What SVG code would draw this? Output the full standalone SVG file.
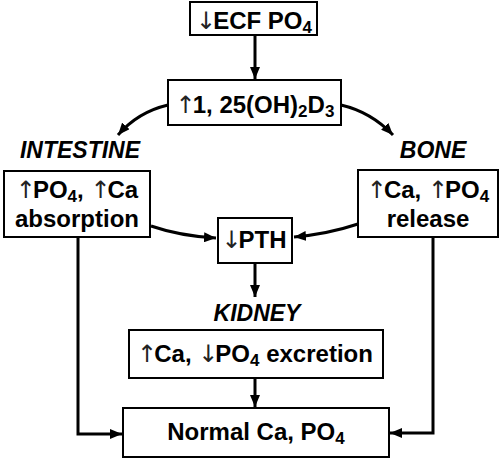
<svg xmlns="http://www.w3.org/2000/svg" width="500" height="459" viewBox="0 0 500 459">
<style>
.box{fill:#fff;stroke:#000;stroke-width:2}
.t{font-family:"Liberation Sans",Arial,sans-serif;font-weight:bold;font-size:24px;fill:#000;text-anchor:middle}
.lbl{font-family:"Liberation Sans",Arial,sans-serif;font-weight:bold;font-style:italic;font-size:23px;fill:#000;text-anchor:middle}
.ar{font-family:"DejaVu Sans",sans-serif;font-weight:normal;font-size:24px;fill:#222;letter-spacing:-3px}
.sub{font-size:17px}
.c{fill:none;stroke:#000;stroke-width:3}
</style>
<defs>
<marker id="ah" viewBox="0 0 12 10" refX="12" refY="5" markerWidth="12" markerHeight="10" markerUnits="userSpaceOnUse" orient="auto">
<path d="M0,0 L12,5 L0,10 Z" fill="#000"/>
</marker>
</defs>
<g id="connectors">
<line class="c" x1="255" y1="35" x2="255" y2="79" marker-end="url(#ah)"/>
<path class="c" d="M168,105 Q138,112 118,135" marker-end="url(#ah)"/>
<path class="c" d="M341,105 Q371,112 393,135" marker-end="url(#ah)"/>
<path class="c" d="M151,226 Q180,236 216,238" marker-end="url(#ah)"/>
<path class="c" d="M358,224 Q328,234 294,237" marker-end="url(#ah)"/>
<line class="c" x1="255" y1="263" x2="255" y2="297" marker-end="url(#ah)"/>
<line class="c" x1="255" y1="378" x2="255" y2="407" marker-end="url(#ah)"/>
<polyline class="c" points="78,237 78,434 122,434" marker-end="url(#ah)"/>
<polyline class="c" points="433,237 433,433 390,433" marker-end="url(#ah)"/>
</g>
<g id="ecf">
<rect class="box" x="190" y="2" width="127" height="33"/>
<text class="t" x="254" y="29"><tspan class="ar">↓</tspan>ECF PO<tspan class="sub" dy="4">4</tspan></text>
</g>
<g id="vitd">
<rect class="box" x="168" y="80" width="173" height="45"/>
<text class="t" x="255" y="113"><tspan class="ar">↑</tspan>1, 25(OH)<tspan class="sub" dy="4">2</tspan><tspan dy="-4">D</tspan><tspan class="sub" dy="4">3</tspan></text>
</g>
<g id="intestine">
<text class="lbl" x="80" y="158">INTESTINE</text>
<rect class="box" x="4" y="171" width="146" height="66"/>
<text class="t" x="77" y="198"><tspan class="ar">↑</tspan>PO<tspan class="sub" dy="4">4</tspan><tspan dy="-4">, </tspan><tspan class="ar">↑</tspan>Ca</text>
<text class="t" x="77" y="227">absorption</text>
</g>
<g id="bone">
<text class="lbl" x="433" y="158">BONE</text>
<rect class="box" x="358" y="170" width="140" height="67"/>
<text class="t" x="428" y="198"><tspan class="ar">↑</tspan>Ca, <tspan class="ar">↑</tspan>PO<tspan class="sub" dy="4">4</tspan></text>
<text class="t" x="428" y="227">release</text>
</g>
<g id="pth">
<rect class="box" x="218" y="218" width="74" height="45"/>
<text class="t" x="254" y="248"><tspan class="ar">↓</tspan>PTH</text>
</g>
<g id="kidney">
<text class="lbl" x="257" y="321">KIDNEY</text>
<rect class="box" x="129" y="330" width="254" height="48"/>
<text class="t" x="255" y="362"><tspan class="ar">↑</tspan>Ca, <tspan class="ar">↓</tspan>PO<tspan class="sub" dy="4">4</tspan><tspan dy="-4"> excretion</tspan></text>
</g>
<g id="normal">
<rect class="box" x="123" y="408" width="266" height="49"/>
<text class="t" x="256" y="440">Normal Ca, PO<tspan class="sub" dy="4">4</tspan></text>
</g>
</svg>
